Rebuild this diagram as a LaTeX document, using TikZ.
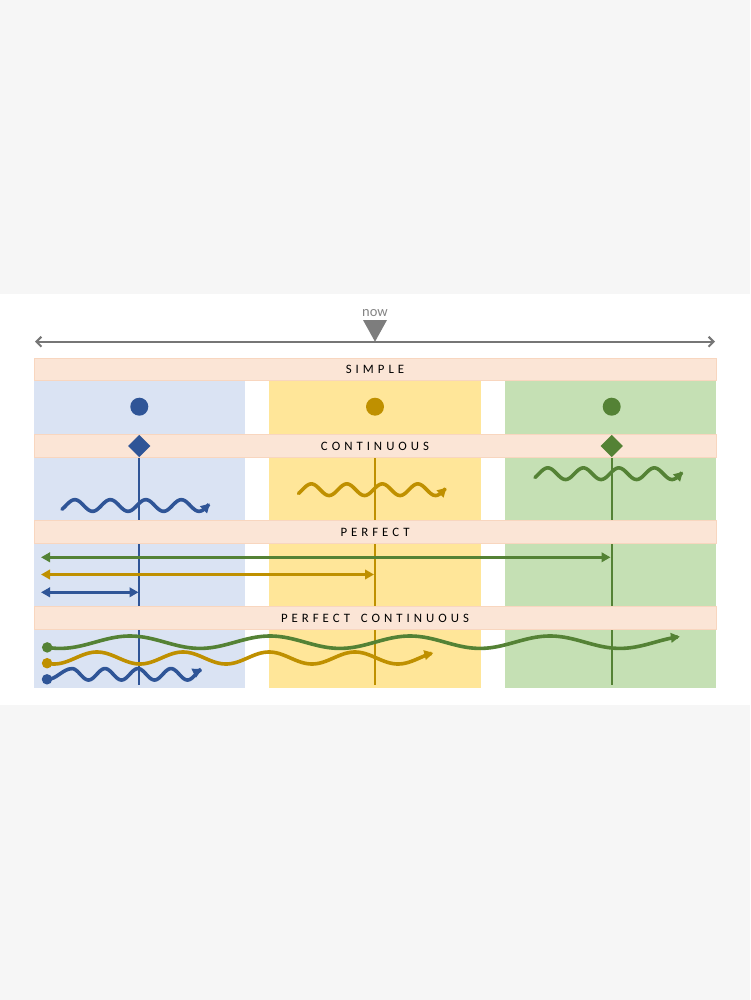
\documentclass[tikz,border=0pt]{standalone}
\usepackage{fontspec}
\setmainfont{Carlito}
\usetikzlibrary{arrows.meta,shapes.geometric}
\definecolor{bgray}{HTML}{F6F6F6}
\definecolor{band}{HTML}{FBE5D6}
\definecolor{bandline}{HTML}{F8D6BF}
\definecolor{pblue}{HTML}{DAE3F3}
\definecolor{pyellow}{HTML}{FFE699}
\definecolor{pgreen}{HTML}{C5E0B4}
\definecolor{dblue}{HTML}{2F5597}
\definecolor{dgold}{HTML}{BF9000}
\definecolor{dgreen}{HTML}{548235}
\definecolor{tgray}{HTML}{767676}
\def\lspc#1{\lspci#1\relax}
\def\lspci#1{\ifx#1\relax\unkern\else#1\kern4pt\expandafter\lspci\fi}
\begin{document}
\begin{tikzpicture}[x=1pt,y=-1pt,
  bandbox/.style={fill=band, draw=bandline, line width=0.7pt},
  bandlabel/.style={font=\fontsize{12.8}{14}\selectfont, text=black, inner sep=0pt},
  vline/.style={line width=1.8pt},
  bigdot/.style={circle, inner sep=0pt, minimum size=18pt, draw=none},
  smalldot/.style={circle, inner sep=0pt, minimum size=10.5pt, draw=none},
  diamark/.style={diamond, inner sep=0pt, minimum size=22.5pt, draw=none},
  thick3/.style={line width=3.6pt},
  mytip/.tip={Triangle[length=9pt,width=9.5pt]}
]
\useasboundingbox (0,0) rectangle (750,1000);
\fill[bgray] (0,0) rectangle (750,1000);
\fill[white] (0,294) rectangle (750,705);

% panels
\fill[pblue] (34,358) rectangle (245,687.7);
\fill[pyellow] (269.3,358) rectangle (480.7,687.7);
\fill[pgreen] (504.7,358) rectangle (716,687.7);

% vertical lines (under the bands)
\coordinate (dbpos) at (139.3,446);
\coordinate (dgpos) at (611.7,446);
\coordinate (ytop) at (375,440);
\coordinate (bbot) at (139.3,685);
\coordinate (ybot) at (375,685);
\coordinate (gbot) at (611.7,685);
\draw[vline, dblue] (dbpos) -- (bbot);
\draw[vline, dgold] (ytop) -- (ybot);
\draw[vline, dgreen] (dgpos) -- (gbot);

% timeline
\coordinate (tl) at (35,341.7);
\coordinate (tr) at (715,341.7);
\draw[tgray, line width=2pt, {Straight Barb[length=5pt,width=10pt]}-{Straight Barb[length=5pt,width=10pt]}] (tl) -- (tr);
\fill[tgray!95] (363,320) -- (387,320) -- (375,341.7) -- cycle;
\node[font=\fontsize{14.5}{16}\selectfont, text=tgray!90, anchor=base, inner sep=0pt] (now) at (375,316.5) {now};

% bands
\draw[bandbox] (34,358.3) rectangle (716,380.7);
\node[bandlabel] (lsimple) at (375,369.5) {\lspc{SIMPLE}};
\draw[bandbox] (34,434.3) rectangle (716,457.3);
\node[bandlabel] (lcont) at (375,446) {\lspc{CONTINUOUS}};
\draw[bandbox] (34,520.7) rectangle (716,543.7);
\node[bandlabel] (lperf) at (375,532.2) {\lspc{PERFECT}};
\draw[bandbox] (34,606.7) rectangle (716,629.3);
\node[bandlabel] (lpc) at (375,618) {\lspc{PERFECT~CONTINUOUS}};

% simple: dots
\node[bigdot, fill=dblue] (cb) at (139.3,406.7) {};
\node[bigdot, fill=dgold] (cy) at (375,406.7) {};
\node[bigdot, fill=dgreen] (cg) at (611.7,406.7) {};

% continuous: diamonds and waves
\node[diamark, fill=dblue] (db) at (dbpos) {};
\node[diamark, fill=dgreen] (dg) at (dgpos) {};
\draw[dblue, thick3, line cap=round, -{mytip}] plot[domain=-40:1460, samples=160, smooth] ({62+(\x+40)/360*35.5},{505.5-5.8*sin(\x)});
\draw[dgold, thick3, line cap=round, -{mytip}] plot[domain=-40:1460, samples=160, smooth] ({298.5+(\x+40)/360*35.5},{489.7-5.8*sin(\x)});
\draw[dgreen, thick3, line cap=round, -{mytip}] plot[domain=-40:1460, samples=160, smooth] ({535+(\x+40)/360*35.5},{473.7-5.8*sin(\x)});

% perfect: double arrows
\coordinate (pgl) at (41,557.3);
\coordinate (pgr) at (610.5,557.3);
\coordinate (pyl) at (41,574.5);
\coordinate (pyr) at (374,574.5);
\coordinate (pbl) at (41,592.3);
\coordinate (pbr) at (138.5,592.3);
\draw[dgreen, thick3, {mytip}-{mytip}] (pgl) -- (pgr);
\draw[dgold, thick3, {mytip}-{mytip}] (pyl) -- (pyr);
\draw[dblue, thick3, {mytip}-{mytip}] (pbl) -- (pbr);

% perfect continuous
\draw[dgreen, thick3, -{mytip}] plot[domain=-123:1504, samples=220, smooth] ({130+(\x-90)/360*140},{642.2-6.2*sin(\x)});
\draw[dgold, thick3, -{mytip}] plot[domain=-119:1498, samples=200, smooth] ({97+(\x-90)/360*86},{658-6*sin(\x)});
\draw[dblue, thick3, -{mytip}] (47,679.3) .. controls (56,680) and (63,668.6) .. (72,668.6) -- plot[domain=90:1505, samples=180, smooth] ({72+(\x-90)/360*33},{674.3-5.7*sin(\x)});
\node[smalldot, fill=dgreen] (sg) at (47.2,647.4) {};
\node[smalldot, fill=dgold] (sy) at (47.1,663.2) {};
\node[smalldot, fill=dblue] (sb) at (47,679.3) {};
\end{tikzpicture}
\end{document}
